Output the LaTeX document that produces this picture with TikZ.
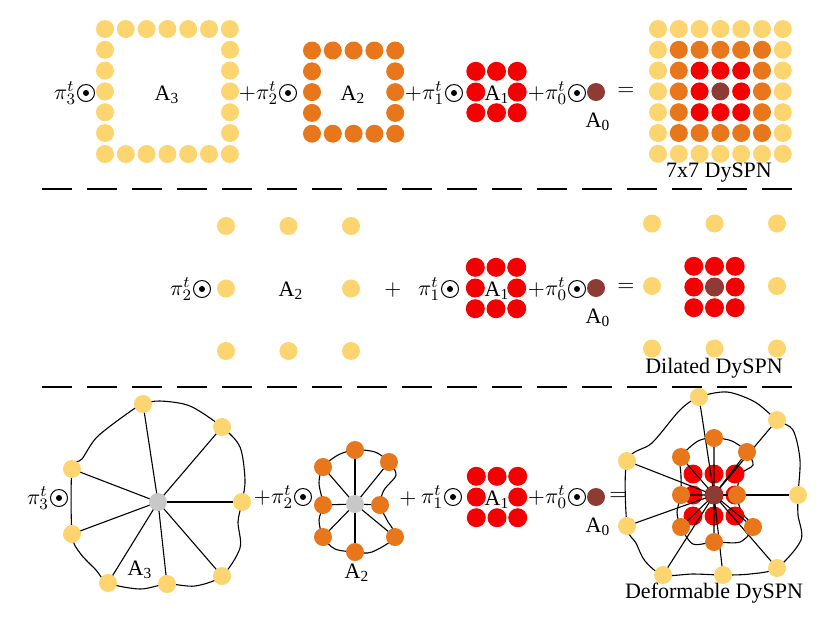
\documentclass[tikz,border=0pt]{standalone}
\usepackage{fontspec}
\setmainfont{Liberation Serif}
\usetikzlibrary{positioning}
\definecolor{dotyellow}{HTML}{FCD570}
\definecolor{dotorange}{HTML}{E8761A}
\definecolor{dotred}{HTML}{F40000}
\definecolor{dotbrown}{HTML}{8E3B33}
\definecolor{dotgray}{HTML}{C8C8C8}
\tikzset{
  dot/.style={circle, inner sep=0pt, minimum size=9pt},
  ydot/.style={dot, fill=dotyellow},
  odot/.style={dot, fill=dotorange},
  rdot/.style={dot, fill=dotred, minimum size=9.5pt},
  bdot/.style={dot, fill=dotbrown},
  gdot/.style={dot, fill=dotgray},
  hprod/.style={circle, draw, line width=0.5pt, inner sep=0pt, minimum size=8.5pt,
    path picture={\fill (path picture bounding box.center) circle (1.5pt);}},
  lbl/.style={font=\fontsize{11}{13}\selectfont, inner sep=0pt},
  spoke/.style={line width=0.55pt},
  rim/.style={line width=0.55pt},
  sep/.style={line width=1pt, dash pattern=on 15pt off 7.5pt}
}
\begin{document}
\begin{tikzpicture}[x=0.5pt, y=-0.5pt]
\useasboundingbox (0,0) rectangle (836,629);

% ---------- row 1: 7x7 DySPN ----------
\foreach \i in {0,...,6} {
  \node[ydot] (a3t-\i) at (105+20.8*\i, 29) {};
  \node[ydot] (a3b-\i) at (105+20.8*\i, 154) {};
}
\foreach \j in {1,...,5} {
  \node[ydot] (a3l-\j) at (105, 29+20.8*\j) {};
  \node[ydot] (a3r-\j) at (230, 29+20.8*\j) {};
}
\foreach \i in {0,...,4} {
  \node[odot] (a2t-\i) at (312+20.8*\i, 50.5) {};
  \node[odot] (a2b-\i) at (312+20.8*\i, 133.7) {};
}
\foreach \j in {1,...,3} {
  \node[odot] (a2l-\j) at (312, 50.5+20.8*\j) {};
  \node[odot] (a2r-\j) at (395.2, 50.5+20.8*\j) {};
}
\foreach \i in {-1,0,1} \foreach \j in {-1,0,1} {
  \pgfmathtruncatemacro\nz{abs(\i)+abs(\j)}
  \ifnum\nz>0 \node[rdot] (a1-\i\j) at (496.5+20.7*\i, 92+20.7*\j) {}; \fi
}
\node[bdot] (a0) at (596,92) {};
\foreach \i in {0,...,6} \foreach \j in {0,...,6} {
  \pgfmathtruncatemacro\ring{max(abs(\i-3),abs(\j-3))}
  \ifcase\ring \def\dotkind{bdot}\or\def\dotkind{rdot}\or\def\dotkind{odot}\else\def\dotkind{ydot}\fi
  \node[\dotkind, minimum size=9pt] (k-\i-\j) at (658+20.8*\i, 29+20.8*\j) {};
}
\node[hprod] (h3) at (86,93) {};
\node[hprod] (h2) at (288,93) {};
\node[hprod] (h1) at (454,93) {};
\node[hprod] (h0) at (577,93) {};
\node[lbl, left=0.3pt of h3] (p3) {$\pi^{t}_{3}$};
\node[lbl, left=0.3pt of h2] (p2) {$+\pi^{t}_{2}$};
\node[lbl, left=0.3pt of h1] (p1) {$+\pi^{t}_{1}$};
\node[lbl, left=0.3pt of h0] (p0) {$+\pi^{t}_{0}$};
\node[lbl] (la3) at (167,95) {A\textsubscript{3}};
\node[lbl] (la2) at (353,95) {A\textsubscript{2}};
\node[lbl] (la1) at (497,95) {A\textsubscript{1}};
\node[lbl] (la0) at (598,122) {A\textsubscript{0}};
\node[lbl] (eq1) at (626,91) {$=$};
\node[lbl] (lk) at (719,173) {7x7 DySPN};

\draw[sep] (42,189) -- (792,189);

% ---------- row 2: dilated DySPN ----------
\foreach \i in {-1,0,1} \foreach \j in {-1,0,1} {
  \pgfmathtruncatemacro\nz{abs(\i)+abs(\j)}
  \ifnum\nz>0
    \node[ydot] (m2-\i\j) at (288.5+62.5*\i, 288.5+62.5*\j) {};
    \node[rdot] (m1-\i\j) at (496+20.7*\i, 288+20.7*\j) {};
    \node[ydot] (md2-\i\j) at (714.5+62.5*\i, 286+62.5*\j) {};
  \fi
  \node[rdot] (md1-\i\j) at (714.5+20.7*\i, 287+20.7*\j) {};
}
\node[bdot] (m0) at (596,288) {};
\node[bdot] (md0) at (714.5,287) {};
\node[hprod] (mh2) at (202,289) {};
\node[hprod] (mh1) at (450,289) {};
\node[hprod] (mh0) at (577,289) {};
\node[lbl, left=0.3pt of mh2] (mp2) {$\pi^{t}_{2}$};
\node[lbl, left=0.3pt of mh1] (mp1) {$\pi^{t}_{1}$};
\node[lbl, left=0.3pt of mh0] (mp0) {$+\pi^{t}_{0}$};
\node[lbl] (mplus) at (393,290) {$+$};
\node[lbl] (ma2) at (291,291) {A\textsubscript{2}};
\node[lbl] (ma1) at (497,291) {A\textsubscript{1}};
\node[lbl] (ma0) at (598,318) {A\textsubscript{0}};
\node[lbl] (eq2) at (626,287) {$=$};
\node[lbl] (ld) at (714,368) {Dilated DySPN};

\draw[sep] (42,387) -- (792,387);

% ---------- row 3: deformable DySPN ----------
% A3, deformable
\foreach \n/\x/\y in {1/143/404, 2/222/427, 3/242/502, 4/222/576,
                      5/167/584, 6/108/583, 7/72/534, 8/72/469}
  \coordinate (d3-\n) at (\x,\y);
\coordinate (c3) at (158,502);
\draw[rim] plot[smooth cycle, tension=0.5] coordinates {(d3-8) (82,459) (97,437) (128,413)
  (d3-1) (160,401) (190,406) (d3-2) (240,447) (245,480) (d3-3) (238,522) (240,548)
  (d3-4) (195,586) (d3-5) (140,589) (d3-6) (96,570) (80,553) (d3-7)};
\foreach \n in {1,...,8} \draw[spoke] (c3) -- (d3-\n);
\foreach \n in {1,...,8} \node[ydot] (y3-\n) at (d3-\n) {};
\node[gdot] (g3) at (c3) {};

% A2, deformable
\foreach \n/\x/\y in {1/355/450, 2/389/462, 3/380/505, 4/395/537,
                      5/355/552, 6/323/537, 7/323/505, 8/323/467}
  \coordinate (d2-\n) at (\x,\y);
\coordinate (c2) at (355,504);
\draw[rim] plot[smooth cycle, tension=0.5] coordinates {(d2-8) (338,455) (d2-1) (375,452)
  (d2-2) (396,475) (384,490) (d2-3) (387,520) (d2-4) (372,552) (d2-5) (335,549)
  (d2-6) (319,520) (d2-7) (319,483)};
\foreach \n in {1,...,8} \draw[spoke] (c2) -- (d2-\n);
\foreach \n in {1,...,8} \node[odot] (o2-\n) at (d2-\n) {};
\node[gdot] (g2) at (c2) {};

% A1, A0
\foreach \i in {-1,0,1} \foreach \j in {-1,0,1} {
  \pgfmathtruncatemacro\nz{abs(\i)+abs(\j)}
  \ifnum\nz>0 \node[rdot] (b1-\i\j) at (497+20.7*\i, 497+20.7*\j) {}; \fi
}
\node[bdot] (b0) at (596,497) {};

% result
\foreach \n/\x/\y in {1/699/397, 2/777/420, 3/798/495, 4/777/568,
                      5/723/575, 6/663/575, 7/627/526, 8/627/461}
  \coordinate (ey-\n) at (\x,\y);
\foreach \n/\x/\y in {1/714/438, 2/747/452, 3/737/495, 4/753/527,
                      5/714/542, 6/681/527, 7/681/495, 8/681/457}
  \coordinate (eo-\n) at (\x,\y);
\coordinate (ec) at (714,495);
\draw[rim] plot[smooth cycle, tension=0.5] coordinates {(ey-1) (727,392) (755,402)
  (ey-2) (793,430) (800,460) (ey-3) (798,515) (801,540) (ey-4) (750,574) (ey-5)
  (693,574) (ey-6) (645,561) (636,543) (ey-7) (ey-8) (652,443) (680,410)};
\draw[rim] plot[smooth cycle, tension=0.5] coordinates {(eo-8) (698,441) (eo-1) (732,441)
  (eo-2) (753,465) (741,474) (eo-3) (742,513) (eo-4) (740,542) (eo-5) (693,544)
  (eo-6) (677,512) (eo-7) (681,476)};
\foreach \i in {-1,0,1} \foreach \j in {-1,0,1}
  \node[rdot] (e1-\i\j) at (714+21*\i, 495+21*\j) {};
\foreach \n in {1,...,8} \draw[spoke] (ec) -- (ey-\n) (ec) -- (eo-\n);
\foreach \n in {1,...,8} {
  \node[odot] (eo\n) at (eo-\n) {};
  \node[ydot] (ey\n) at (ey-\n) {};
}
\node[bdot] (e0) at (ec) {};

\node[hprod] (bh3) at (59,498) {};
\node[hprod] (bh2) at (303,497) {};
\node[hprod] (bh1) at (453,497) {};
\node[hprod] (bh0) at (577,497) {};
\node[lbl, left=0.3pt of bh3] (bp3) {$\pi^{t}_{3}$};
\node[lbl, left=0.3pt of bh2] (bp2) {$+\pi^{t}_{2}$};
\node[lbl, left=0.3pt of bh1] (bp1) {$\pi^{t}_{1}$};
\node[lbl, left=0.3pt of bh0] (bp0) {$+\pi^{t}_{0}$};
\node[lbl] (bplus) at (408,499) {$+$};
\node[lbl] (ba3) at (140,570) {A\textsubscript{3}};
\node[lbl] (ba2) at (357,573) {A\textsubscript{2}};
\node[lbl] (ba1) at (497,500) {A\textsubscript{1}};
\node[lbl] (ba0) at (598,527) {A\textsubscript{0}};
\node[lbl] (eq3) at (618,496) {$=$};
\node[lbl] (lf) at (714,593) {Deformable DySPN};
\end{tikzpicture}
\end{document}
